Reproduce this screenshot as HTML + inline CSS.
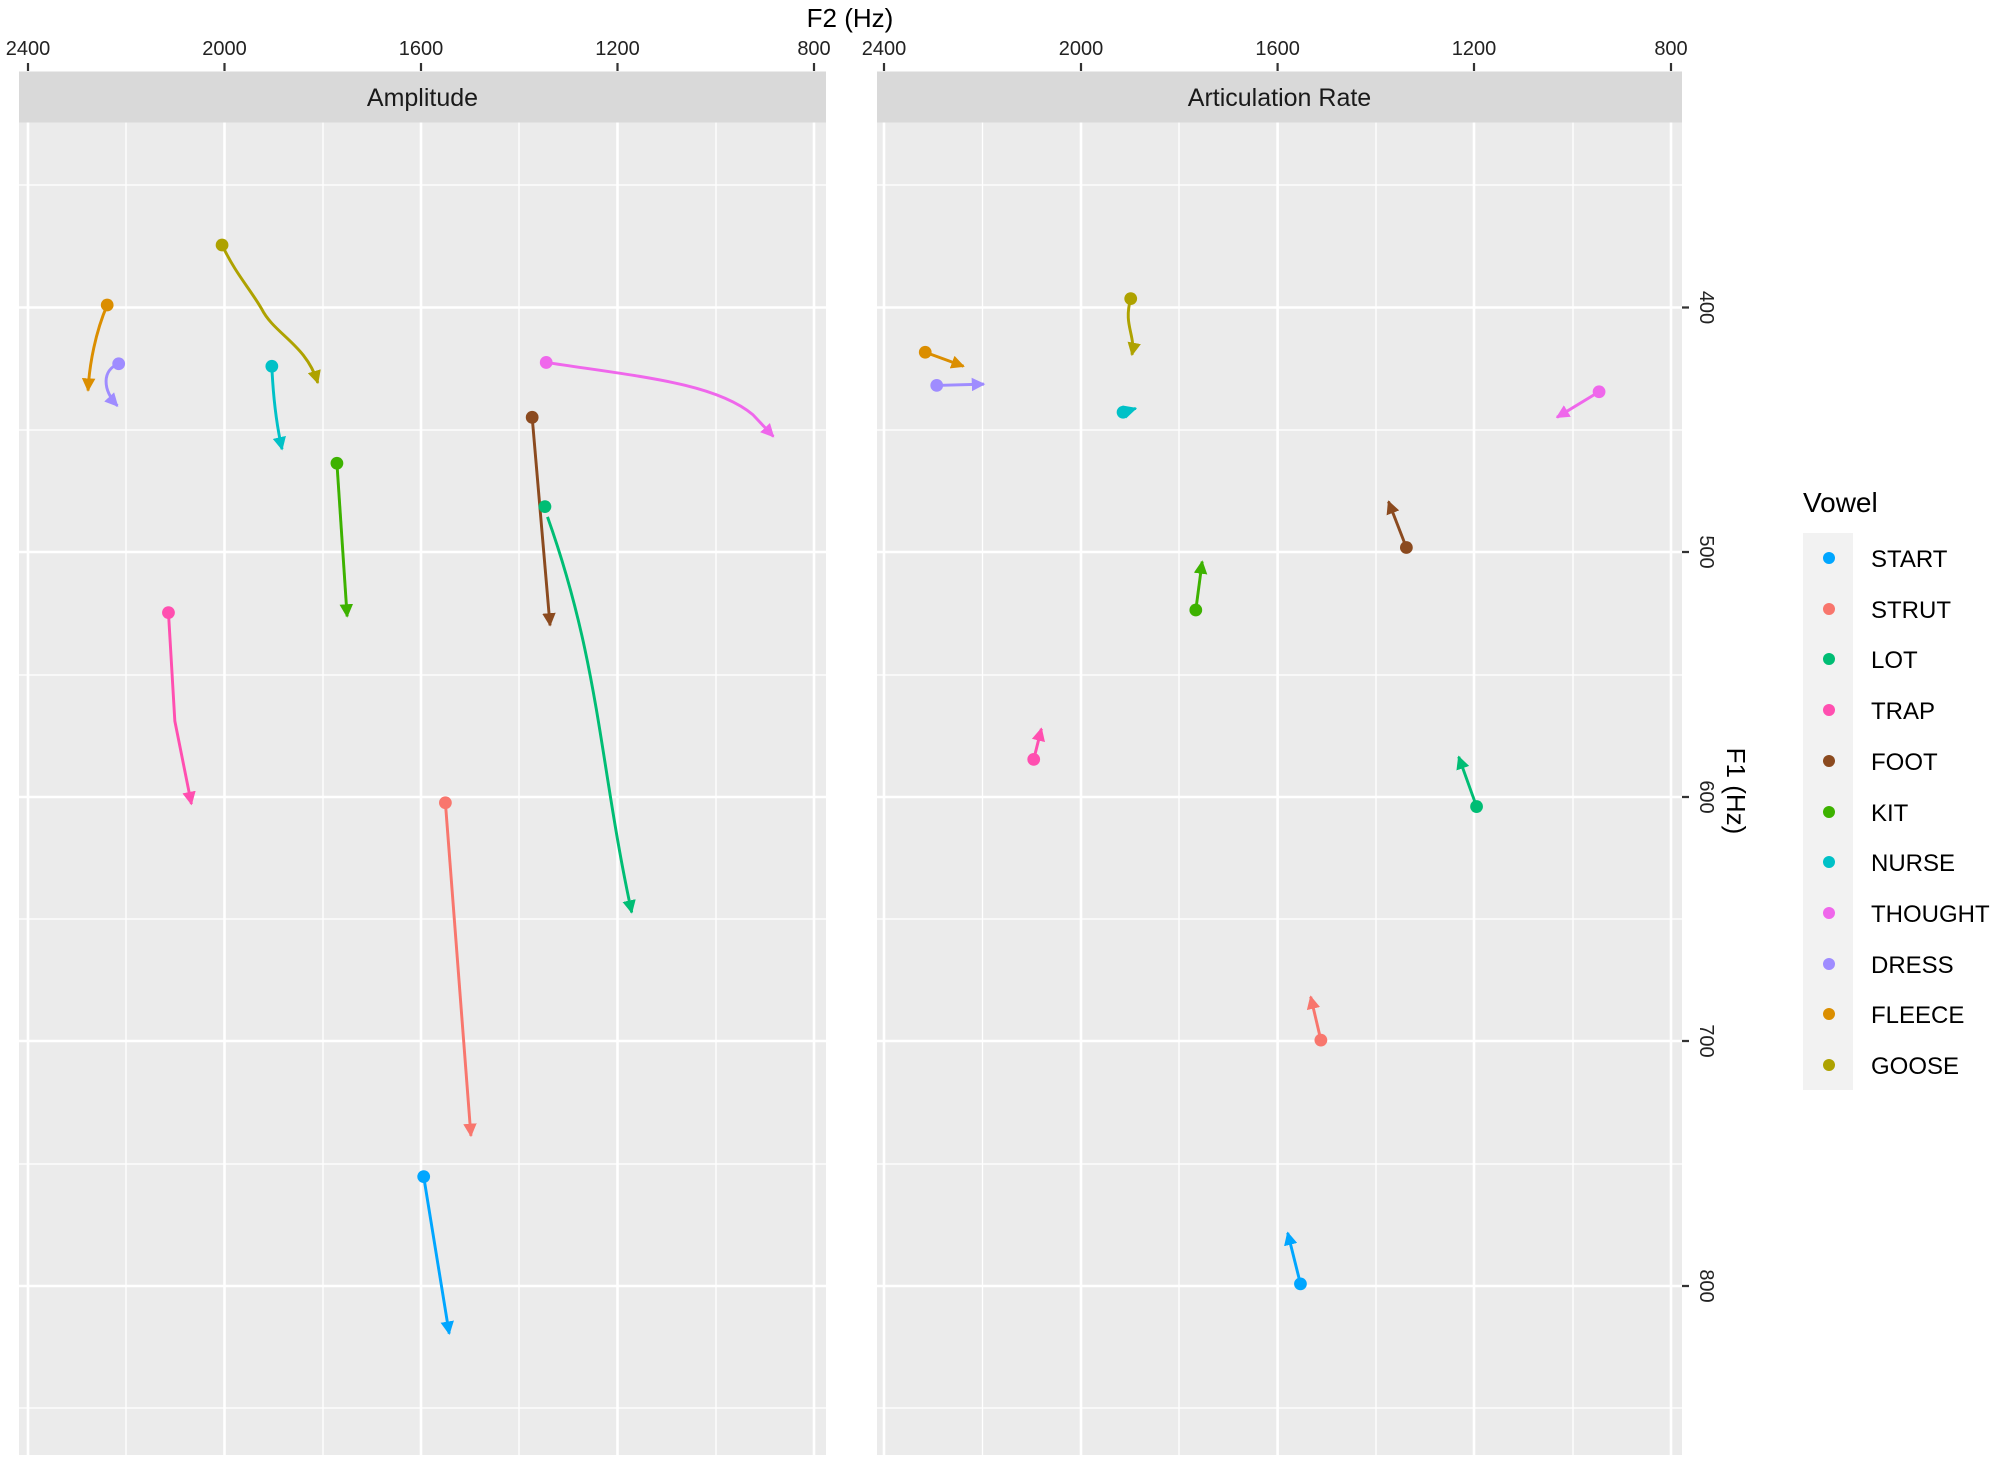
<!DOCTYPE html>
<html><head><meta charset="utf-8"><style>
html,body{margin:0;padding:0;background:#fff;}
svg{display:block;font-family:"Liberation Sans",sans-serif;}
</style></head><body>
<svg width="2001" height="1459" viewBox="0 0 2001 1459" xmlns="http://www.w3.org/2000/svg">
<defs>
<marker id="a" viewBox="0 0 10 10" refX="9" refY="5" markerWidth="4.6" markerHeight="4.6" orient="auto" markerUnits="strokeWidth"><path d="M0,0 L10,5 L0,10 z" fill="context-stroke"/></marker>
</defs>
<rect x="19" y="122.5" width="807" height="1332.5" fill="#EBEBEB"/>
<rect x="877" y="122.5" width="805" height="1332.5" fill="#EBEBEB"/>
<rect x="19" y="71.5" width="807" height="51" fill="#D9D9D9"/>
<rect x="877" y="71.5" width="805" height="51" fill="#D9D9D9"/>
<text x="422.5" y="106" font-size="25" text-anchor="middle" fill="#1a1a1a">Amplitude</text>
<text x="1279.5" y="106" font-size="25" text-anchor="middle" fill="#1a1a1a">Articulation Rate</text>
<g stroke="#fff">
<g stroke-width="1.3">
<line x1="126" y1="122.5" x2="126" y2="1455"/><line x1="323" y1="122.5" x2="323" y2="1455"/><line x1="519" y1="122.5" x2="519" y2="1455"/><line x1="716" y1="122.5" x2="716" y2="1455"/>
<line x1="982.5" y1="122.5" x2="982.5" y2="1455"/><line x1="1179" y1="122.5" x2="1179" y2="1455"/><line x1="1376" y1="122.5" x2="1376" y2="1455"/><line x1="1573" y1="122.5" x2="1573" y2="1455"/>
<path d="M19,185H826M19,430H826M19,675H826M19,919H826M19,1164H826M19,1408H826M877,185H1682M877,430H1682M877,675H1682M877,919H1682M877,1164H1682M877,1408H1682"/>
</g>
<g stroke-width="2.6">
<path d="M28,122.5V1455M224.5,122.5V1455M421,122.5V1455M617.5,122.5V1455M814,122.5V1455M884,122.5V1455M1081,122.5V1455M1277.6,122.5V1455M1474,122.5V1455M1671,122.5V1455"/>
<path d="M19,307.5H826M19,552H826M19,797H826M19,1041H826M19,1286H826M877,307.5H1682M877,552H1682M877,797H1682M877,1041H1682M877,1286H1682"/>
</g>
</g>
<g stroke="#333" stroke-width="2.2">
<path d="M28,63V71M224.5,63V71M421,63V71M617.5,63V71M814,63V71M884,63V71M1081,63V71M1277.6,63V71M1474,63V71M1671,63V71"/>
<path d="M1682,307.5H1689M1682,552H1689M1682,797H1689M1682,1041H1689M1682,1286H1689"/>
</g>
<g font-size="20" fill="#222" text-anchor="middle">
<text x="28" y="55">2400</text><text x="224.5" y="55">2000</text><text x="421" y="55">1600</text><text x="617.5" y="55">1200</text><text x="814" y="55">800</text>
<text x="884" y="55">2400</text><text x="1081" y="55">2000</text><text x="1277.6" y="55">1600</text><text x="1474" y="55">1200</text><text x="1671" y="55">800</text>
<text transform="translate(1700,307.5) rotate(90)">400</text>
<text transform="translate(1700,552) rotate(90)">500</text>
<text transform="translate(1700,797) rotate(90)">600</text>
<text transform="translate(1700,1041) rotate(90)">700</text>
<text transform="translate(1700,1286) rotate(90)">800</text>
</g>
<text x="850" y="27" font-size="26" text-anchor="middle" fill="#000">F2 (Hz)</text>
<text transform="translate(1727,791) rotate(90)" font-size="26" text-anchor="middle" fill="#000">F1 (Hz)</text>
<g transform="scale(1.2762)" fill="none" stroke-width="2.3" marker-end="url(#a)">
<path stroke="#AEA200" d="M174,192 C185,215 195,225 205,242 C215,262 240,270 249,300"/>
<path stroke="#DB8E00" d="M84,239 C75,260 70,285 69,306"/>
<path stroke="#9F8CFF" d="M93,285 C80,290 80,305 92,318"/>
<path stroke="#00C1C7" d="M213,287 C214,310 216,330 221,352"/>
<path stroke="#3DB200" d="M264,363 L272,483"/>
<path stroke="#8B4A1F" d="M417,327 L431,490"/>
<path stroke="#00BD74" d="M429,405 C470,520 470,600 495,715"/>
<path stroke="#EF67EB" d="M428,284 C500,295 560,300 590,325 L606,342"/>
<path stroke="#FF4FB0" d="M132,480 L137,565 L150,630"/>
<path stroke="#F8766D" d="M349,629 L369,890"/>
<path stroke="#00A6FF" d="M332,922 L352,1045"/>
<path stroke="#DB8E00" d="M725,276 L755,287"/>
<path stroke="#9F8CFF" d="M734,302 L771,301"/>
<path stroke="#AEA200" d="M886,234 C880,255 890,262 887,278"/>
<path stroke="#00C1C7" d="M880,323 L890,320"/>
<path stroke="#EF67EB" d="M1253,307 L1220,327"/>
<path stroke="#8B4A1F" d="M1102,429 L1088,393"/>
<path stroke="#3DB200" d="M937,478 L942,440"/>
<path stroke="#FF4FB0" d="M810,595 L816,571"/>
<path stroke="#00BD74" d="M1157,632 L1143,593"/>
<path stroke="#F8766D" d="M1035,815 L1027,781"/>
<path stroke="#00A6FF" d="M1019,1006 L1009,966"/>
</g>
<g transform="scale(1.2762)">
<circle cx="174" cy="192" r="5" fill="#AEA200"/>
<circle cx="84" cy="239" r="5" fill="#DB8E00"/>
<circle cx="93" cy="285" r="5" fill="#9F8CFF"/>
<circle cx="213" cy="287" r="5" fill="#00C1C7"/>
<circle cx="264" cy="363" r="5" fill="#3DB200"/>
<circle cx="417" cy="327" r="5" fill="#8B4A1F"/>
<circle cx="427" cy="397" r="5" fill="#00BD74"/>
<circle cx="428" cy="284" r="5" fill="#EF67EB"/>
<circle cx="132" cy="480" r="5" fill="#FF4FB0"/>
<circle cx="349" cy="629" r="5" fill="#F8766D"/>
<circle cx="332" cy="922" r="5" fill="#00A6FF"/>
<circle cx="725" cy="276" r="5" fill="#DB8E00"/>
<circle cx="734" cy="302" r="5" fill="#9F8CFF"/>
<circle cx="886" cy="234" r="5" fill="#AEA200"/>
<circle cx="880" cy="323" r="5" fill="#00C1C7"/>
<circle cx="1253" cy="307" r="5" fill="#EF67EB"/>
<circle cx="1102" cy="429" r="5" fill="#8B4A1F"/>
<circle cx="937" cy="478" r="5" fill="#3DB200"/>
<circle cx="810" cy="595" r="5" fill="#FF4FB0"/>
<circle cx="1157" cy="632" r="5" fill="#00BD74"/>
<circle cx="1035" cy="815" r="5" fill="#F8766D"/>
<circle cx="1019" cy="1006" r="5" fill="#00A6FF"/>
</g>
<text x="1803" y="512" font-size="28" fill="#000">Vowel</text>
<rect x="1803" y="533" width="50" height="557" fill="#F2F2F2"/>
<g font-size="24" fill="#000">
<circle cx="1829" cy="558" r="6" fill="#00A6FF"/><text x="1871" y="567">START</text>
<circle cx="1829" cy="609" r="6" fill="#F8766D"/><text x="1871" y="618">STRUT</text>
<circle cx="1829" cy="659" r="6" fill="#00BD74"/><text x="1871" y="668">LOT</text>
<circle cx="1829" cy="710" r="6" fill="#FF4FB0"/><text x="1871" y="719">TRAP</text>
<circle cx="1829" cy="761" r="6" fill="#8B4A1F"/><text x="1871" y="770">FOOT</text>
<circle cx="1829" cy="812" r="6" fill="#3DB200"/><text x="1871" y="821">KIT</text>
<circle cx="1829" cy="862" r="6" fill="#00C1C7"/><text x="1871" y="871">NURSE</text>
<circle cx="1829" cy="913" r="6" fill="#EF67EB"/><text x="1871" y="922">THOUGHT</text>
<circle cx="1829" cy="964" r="6" fill="#9F8CFF"/><text x="1871" y="973">DRESS</text>
<circle cx="1829" cy="1014" r="6" fill="#DB8E00"/><text x="1871" y="1023">FLEECE</text>
<circle cx="1829" cy="1065" r="6" fill="#AEA200"/><text x="1871" y="1074">GOOSE</text>
</g>
</svg>
</body></html>
